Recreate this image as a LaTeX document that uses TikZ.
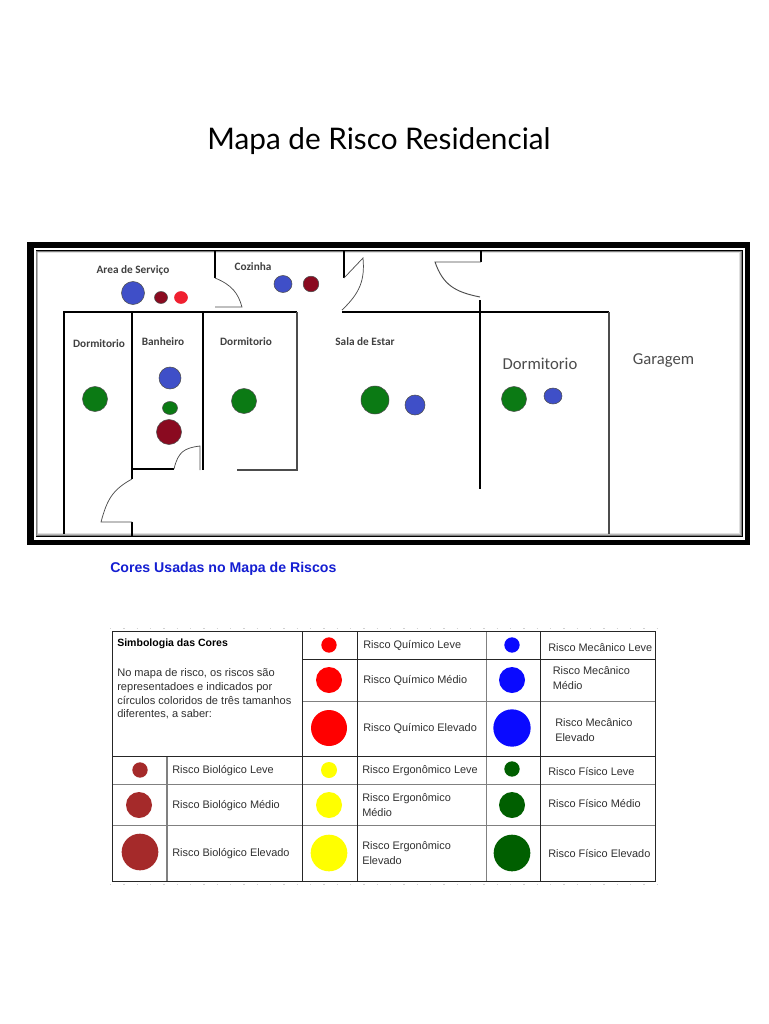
\documentclass[tikz,border=0pt]{standalone}
\usepackage{fontspec}
\setmainfont{Liberation Sans}
\newfontfamily\mapfont{Carlito}
\newfontfamily\titlefont{Lato}
\definecolor{mgreen}{HTML}{0B7A14}
\definecolor{mblue}{HTML}{3F4FC8}
\definecolor{mdred}{HTML}{8A0A20}
\definecolor{mred}{HTML}{F02030}
\definecolor{tbrown}{HTML}{A52A2A}
\definecolor{tgreen}{HTML}{005F00}
\definecolor{tblue}{HTML}{0A0AFF}
\definecolor{tyellow}{HTML}{FFFF00}
\definecolor{tred}{HTML}{FF0000}
\definecolor{txt}{HTML}{303030}
\tikzset{
  wall/.style={line width=1.9pt,black},
  thin wall/.style={line width=0.9pt,black!70},
  door/.style={line width=0.55pt,black!70},
  room/.style={font=\mapfont\bfseries\fontsize{8.45}{9}\selectfont,text=black!75,inner sep=0pt},
  bigroom/.style={font=\mapfont\fontsize{12.5}{14}\selectfont,text=black!70,inner sep=0pt},
  mapdot/.style={draw=black!70,line width=0.4pt},
  tdot/.style={circle,inner sep=0pt},
  tlabel/.style={anchor=west,inner sep=0pt,align=left,text=txt,font=\fontsize{8.2}{11}\selectfont},
  gridk/.style={line width=0.7pt,black!85},
  gridg/.style={line width=0.7pt,black!50},
  ticks/.style={line width=0.3pt,black!18,dash pattern=on 1pt off 9pt},
}
\begin{document}
\begin{tikzpicture}[x=0.75pt,y=-0.75pt]
\useasboundingbox (0,0) rectangle (768,1024);
\fill[white] (0,0) rectangle (768,1024);
% title
\node[inner sep=0pt,font=\titlefont\fontsize{22.3}{24}\selectfont] (title) at (379,141) {Mapa de Risco Residencial};
% frame
\fill[black] (27,242) rectangle (750,545);
\fill[white] (33.5,248) rectangle (745,539.5);
\fill[black] (35.5,250) rectangle (743,537);
\fill[black!50] (36.3,250.8) rectangle (742,536);
\fill[black!28] (37,251.5) rectangle (741,535);
\fill[black!12] (37.7,252.2) rectangle (740,534);
\fill[white] (38.4,253) rectangle (739,533);
% walls
\draw[wall] (64,534) -- (64,312) -- (297,312);
\draw[wall] (132,312) -- (132,479);
\draw[wall] (203,312) -- (203,470);
\draw[wall] (132,469) -- (174,469);
\draw[thin wall] (297,312) -- (297,470) -- (237,470);
\draw[wall] (132,522) -- (132,537);
\draw[wall] (215,250) -- (215,278);
\draw[wall] (344,250) -- (344,278);
\draw[line width=1.3pt] (342,312) -- (609,312);
\draw[thin wall,line width=1.3pt] (609,312) -- (609,534);
\draw[wall,line width=1.7pt] (480,300) -- (480,489);
\draw[wall] (481,250) -- (481,262);
% doors
\draw[door] (174,469) .. controls (178,452) and (184,448) .. (200,446) -- (200,470);
\draw[door] (132,479) .. controls (112,490) and (107,500) .. (101,522) -- (132,522);
\draw[door] (215,278) .. controls (232,285) and (238,293) .. (242,307) -- (215,307);
\draw[door] (344,278) -- (363,258) .. controls (365,280) and (360,293) .. (342,310);
\draw[door,line width=0.7pt] (481,262) -- (435,262) .. controls (443,285) and (455,292) .. (480,297);
% room labels
\node[room] (lserv) at (133,270.5) {Area de Serviço};
\node[room] (lcoz) at (253,266.5) {Cozinha};
\node[room] (ldorma) at (99,344) {Dormitorio};
\node[room] (lban) at (163,342) {Banheiro};
\node[room] (ldormb) at (246,342) {Dormitorio};
\node[room] (lsala) at (365,341.5) {Sala de Estar};
\node[bigroom] (ldormc) at (540,364) {Dormitorio};
\node[bigroom] (lgar) at (663.5,361) {Garagem};
% map dots
\filldraw[mapdot,fill=mblue] (133,293) circle[radius=11.5];
\filldraw[mapdot,fill=mdred] (161,297.5) ellipse[x radius=6.5,y radius=6];
\filldraw[mapdot,fill=mred,draw=mred] (181,297.5) ellipse[x radius=6.5,y radius=6];
\filldraw[mapdot,fill=mblue] (283,284) ellipse[x radius=9,y radius=8.5];
\filldraw[mapdot,fill=mdred] (311,284) circle[radius=7.8];
\filldraw[mapdot,fill=mgreen] (95,399) circle[radius=12.5];
\filldraw[mapdot,fill=mblue] (170,378) circle[radius=11];
\filldraw[mapdot,fill=mgreen] (170,408) ellipse[x radius=7.5,y radius=6.5];
\filldraw[mapdot,fill=mdred] (169,432) circle[radius=12.5];
\filldraw[mapdot,fill=mgreen] (244,401) circle[radius=12.5];
\filldraw[mapdot,fill=mgreen] (375,400) circle[radius=14];
\filldraw[mapdot,fill=mblue] (415,405) circle[radius=10];
\filldraw[mapdot,fill=mgreen] (514,399) circle[radius=12.5];
\filldraw[mapdot,fill=mblue] (553,396) ellipse[x radius=9,y radius=8];
% heading
\node[anchor=west,inner sep=0pt,text={rgb,255:red,20;green,30;blue,210},font=\bfseries\fontsize{10.6}{12}\selectfont] (heading) at (110,568.5) {Cores Usadas no Mapa de Riscos};
% table
\draw[ticks] (110,628) -- (658,628);
\draw[ticks] (110,884) -- (658,884);
\draw[gridg] (112,784) -- (302,784) (112,825) -- (302,825);
\draw[gridg] (302,784) -- (655,784) (302,825) -- (655,825);
\draw[gridg] (302,701) -- (655,701);
\draw[gridg] (486,631) -- (486,881);
\draw[gridg,line width=0.9pt] (167,756) -- (167,881);
\draw[gridk] (302,659) -- (655,659);
\draw[gridk] (112,756) -- (655,756);
\draw[gridk] (302,631) -- (302,881);
\draw[gridk] (357,631) -- (357,881);
\draw[gridk] (540,631) -- (540,881);
\draw[gridk] (112,631) rectangle (655,881);
% cells
\node[anchor=west,inner sep=0pt,font=\bfseries\fontsize{7.9}{11}\selectfont] (tsimb) at (117,644) {Simbologia das Cores};
\node[anchor=north west,inner sep=0pt,align=left,text=txt,font=\fontsize{8.3}{10.4}\selectfont] (tdesc) at (117,668) {No mapa de risco, os riscos são\\representadoes e indicados por\\círculos coloridos de três tamanhos\\diferentes, a saber:};
% red
\node[tdot,fill=tred,minimum size=11.5pt] (dq1) at (329,645) {};
\node[tdot,fill=tred,minimum size=19.5pt] (dq2) at (329,680) {};
\node[tdot,fill=tred,minimum size=27pt] (dq3) at (329,728) {};
% blue
\node[tdot,fill=tblue,minimum size=11.5pt] (dm1) at (512,645) {};
\node[tdot,fill=tblue,minimum size=19.5pt] (dm2) at (512,680) {};
\node[tdot,fill=tblue,minimum size=28pt] (dm3) at (512,728) {};
% brown
\node[tdot,fill=tbrown,minimum size=11.5pt] (db1) at (140,770) {};
\node[tdot,fill=tbrown,minimum size=19.5pt] (db2) at (139,805) {};
\node[tdot,fill=tbrown,minimum size=27.5pt] (db3) at (140,852) {};
% yellow
\node[tdot,fill=tyellow,minimum size=12pt] (de1) at (329,770) {};
\node[tdot,fill=tyellow,minimum size=19.5pt] (de2) at (329,805) {};
\node[tdot,fill=tyellow,minimum size=27.5pt] (de3) at (329,853) {};
% green
\node[tdot,fill=tgreen,minimum size=11.5pt] (df1) at (512,769) {};
\node[tdot,fill=tgreen,minimum size=19.5pt] (df2) at (512,805) {};
\node[tdot,fill=tgreen,minimum size=27.5pt] (df3) at (512,853) {};
% labels
\node[tlabel] (lq1) at (363,646) {Risco Químico Leve};
\node[tlabel] (lq2) at (363,680.5) {Risco Químico Médio};
\node[tlabel] (lq3) at (363,728.5) {Risco Químico Elevado};
\node[tlabel] (lm1) at (548,647.5) {Risco Mecânico Leve};
\node[tlabel] (lm2) at (552.5,678) {Risco Mecânico\\Médio};
\node[tlabel] (lm3) at (555,730) {Risco Mecânico\\Elevado};
\node[tlabel] (lb1) at (172,770.5) {Risco Biológico Leve};
\node[tlabel] (lb2) at (172,805.5) {Risco Biológico Médio};
\node[tlabel] (lb3) at (172,853.5) {Risco Biológico Elevado};
\node[tlabel] (le1) at (362,770.5) {Risco Ergonômico Leve};
\node[tlabel] (le2) at (362,805) {Risco Ergonômico\\Médio};
\node[tlabel] (le3) at (362,853) {Risco Ergonômico\\Elevado};
\node[tlabel] (lf1) at (548,772) {Risco Físico Leve};
\node[tlabel] (lf2) at (548,804) {Risco Físico Médio};
\node[tlabel] (lf3) at (548,853.5) {Risco Físico Elevado};
\end{tikzpicture}
\end{document}
